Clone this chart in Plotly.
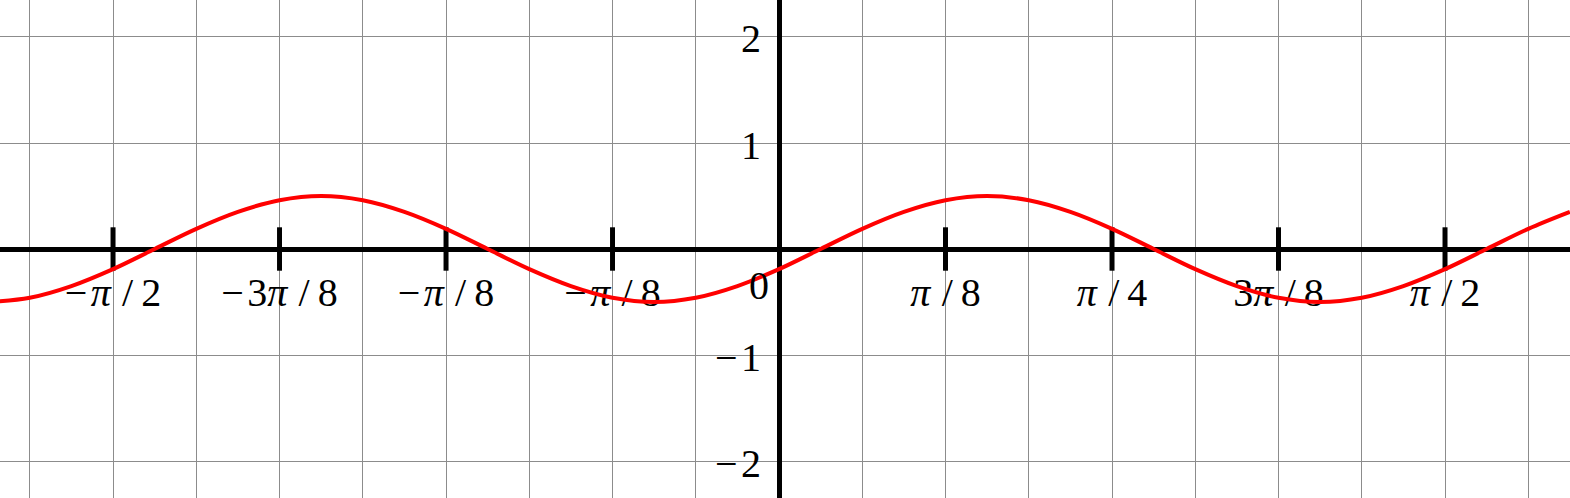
import math
import plotly.graph_objects as go

# curve, one sample every pi/32
sample_steps = list(range(-19, 20))
curve_y = [-0.5, -0.46, -0.35, -0.19, 0, 0.19, 0.35, 0.46, 0.5, 0.46,
           0.35, 0.19, 0, -0.19, -0.35, -0.46, -0.5, -0.46, -0.35, -0.19,
           0, 0.19, 0.35, 0.46, 0.5, 0.46, 0.35, 0.19, 0, -0.19,
           -0.35, -0.46, -0.5, -0.46, -0.35, -0.19, 0, 0.19, 0.35]

# x ticks every pi/8 (labels as they appear in the picture)
tick_steps = [-4, -3, -2, -1, 1, 2, 3, 4]
tick_labels = ["\u2212\u03c0/2", "\u22123\u03c0/8", "\u2212\u03c0/8", "\u2212\u03c0/8",
               "\u03c0/8", "\u03c0/4", "3\u03c0/8", "\u03c0/2"]

y_ticks = [2, 1, -1, -2]
y_labels = ["2", "1", "\u22121", "\u22122"]

curve_x = [k * math.pi / 32 for k in sample_steps]
tick_x = [k * math.pi / 8 for k in tick_steps]

W, H = 1570, 498
x_range = [-1.8374, 1.8656]
y_range = [-2.349, 2.349]
px_per_y = H / (y_range[1] - y_range[0])

FONT = dict(family="Liberation Serif", size=40, color="black")


def mathy(s):
    # widen a bit and slant pi, like TeX math
    s = s.replace("/", "\u2009/\u2009").replace("\u2212", "\u2212\u200a")
    return s.replace("\u03c0", "<i>\u03c0</i>\u200a")


fig = go.Figure()

# x labels as a text trace so the curve is drawn over them
fig.add_trace(go.Scatter(
    x=tick_x, y=[-47 / px_per_y] * len(tick_x),
    mode="text", text=[mathy(t) for t in tick_labels],
    textposition="middle center",
    textfont=FONT, hoverinfo="skip", showlegend=False))

# tick marks on the x axis
fig.add_trace(go.Scatter(
    x=tick_x, y=[0] * len(tick_x), mode="markers",
    marker=dict(symbol="line-ns", size=31, line=dict(width=5, color="black")),
    hoverinfo="skip", showlegend=False))

fig.add_trace(go.Scatter(
    x=curve_x, y=curve_y, mode="lines",
    line=dict(color="#ff0000", width=4, shape="spline"),
    hoverinfo="skip", showlegend=False))

for v, lab in zip(y_ticks, y_labels):
    fig.add_annotation(x=0, y=v, text=mathy(lab), showarrow=False,
                       xanchor="right", yanchor="middle",
                       xshift=-16, yshift=-2, font=FONT)

fig.add_annotation(x=0, y=0, text="0", showarrow=False,
                   xanchor="center", yanchor="middle",
                   xshift=-20, yshift=-36, font=FONT)

fig.update_xaxes(range=x_range, tick0=0, dtick=math.pi / 16,
                 showgrid=True, gridcolor="#8c8c8c", gridwidth=1,
                 zeroline=True, zerolinecolor="black", zerolinewidth=4.5,
                 showticklabels=False, showline=False, fixedrange=True)
fig.update_yaxes(range=y_range, tick0=0, dtick=1,
                 showgrid=True, gridcolor="#8c8c8c", gridwidth=1,
                 zeroline=True, zerolinecolor="black", zerolinewidth=4.5,
                 showticklabels=False, showline=False, fixedrange=True)

fig.update_layout(width=W, height=H, margin=dict(l=0, r=0, t=0, b=0),
                  plot_bgcolor="white", paper_bgcolor="white")

# drop the page's default body margin so the chart fills the window
fig.write_html("out.html", config={"displayModeBar": False},
               post_script="document.body.style.margin='0';")
